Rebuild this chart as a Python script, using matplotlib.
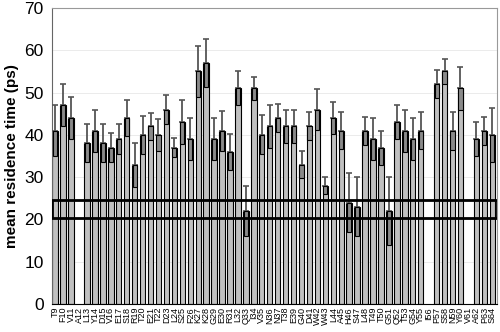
import numpy as np
import matplotlib
matplotlib.use('Agg')
import matplotlib.pyplot as plt

plt.rcParams['font.family'] = ['Liberation Sans', 'DejaVu Sans']

residues = ['T9', 'F10', 'V11', 'A12', 'L13', 'Y14', 'D15', 'V16', 'E17', 'S18',
            'R19', 'T20', 'E21', 'T22', 'D23', 'L24', 'S25', 'F26', 'K27', 'K28',
            'G29', 'E30', 'R31', 'L32', 'Q33', 'I34', 'V35', 'N36', 'N37', 'T38',
            'E39', 'G40', 'D41', 'W42', 'W43', 'L44', 'A45', 'H46', 'S47', 'L48',
            'T49', 'T50', 'G51', 'Q52', 'T53', 'G54', 'Y55', 'I56', 'P57', 'S58',
            'N59', 'Y60', 'V61', 'A62', 'P63', 'S64']

nan = np.nan
mean_time = [41, 47, 44, nan, 38, 41, 38, 37, 39, 44,
             33, 40, 42, 40, 46, 37, 43, 39, 55, 57,
             39, 41, 36, 51, 22, 51, 40, 42, 44, 42,
             42, 33, 42, 46, 28, 44, 41, 24, 23, 41,
             39, 37, 22, 43, 41, 39, 41, nan, 52, 55,
             41, 51, nan, 39, 41, 40]
err_time = [6, 5, 5, nan, 4.5, 5, 4.5, 3.5, 3.5, 4.2,
            5.2, 4.5, 3.2, 3.8, 3.5, 2.2, 5.2, 5, 6, 5.6,
            5, 4.7, 4.2, 4, 6, 2.7, 4.6, 5, 3.2, 4,
            3.8, 3.3, 3.3, 4.8, 2, 3.8, 4.3, 7, 7, 3.3,
            5, 4, 8, 4, 5, 5, 4.3, nan, 3.3, 3,
            4.5, 5, nan, 4, 3.3, 6.3]

# highlighted band
band = (20.4, 24.6)

mean_time = np.array(mean_time, dtype=float)
err_time = np.array(err_time, dtype=float)
x = np.arange(len(residues))

fig = plt.figure(figsize=(5, 3.32), dpi=100)
ax = fig.add_axes([0.104, 0.084, 0.89, 0.892])

ax.bar(x, mean_time, width=0.68, color='#c0c0c0', edgecolor='black', lw=0.8, zorder=2)
ax.errorbar(x, mean_time, yerr=[np.zeros_like(err_time), err_time], fmt='none',
            ecolor='#555555', elinewidth=1.3, capsize=2, capthick=1.2, zorder=3)
ax.bar(x, err_time, bottom=mean_time - err_time, width=0.52, color='#8a8a8a',
       edgecolor='black', lw=0.8, zorder=3)

ax.axhspan(band[0], band[1], fill=False, edgecolor='black', lw=2, zorder=4)

ax.set_xlim(-0.4, len(residues) - 0.4)
ax.set_ylim(0, 70)
ax.set_yticks(range(0, 71, 10))
ax.yaxis.grid(True, color='#e8e8e8', lw=0.6, zorder=0)
ax.set_axisbelow(True)
ax.tick_params(axis='y', labelsize=12.5, length=0, pad=6)
ax.set_xticks(x)
ax.set_xticklabels(residues, rotation=90, fontsize=6.5, va='top')
ax.tick_params(axis='x', length=0, pad=2)
ax.set_ylabel('mean residence time (ps)', fontsize=11, fontweight='bold', labelpad=4)

for s in ['top', 'right']:
    ax.spines[s].set_color('#999999')
ax.spines['left'].set_color('#666666')
ax.spines['bottom'].set_color('black')

fig.savefig('out.png', dpi=100)
